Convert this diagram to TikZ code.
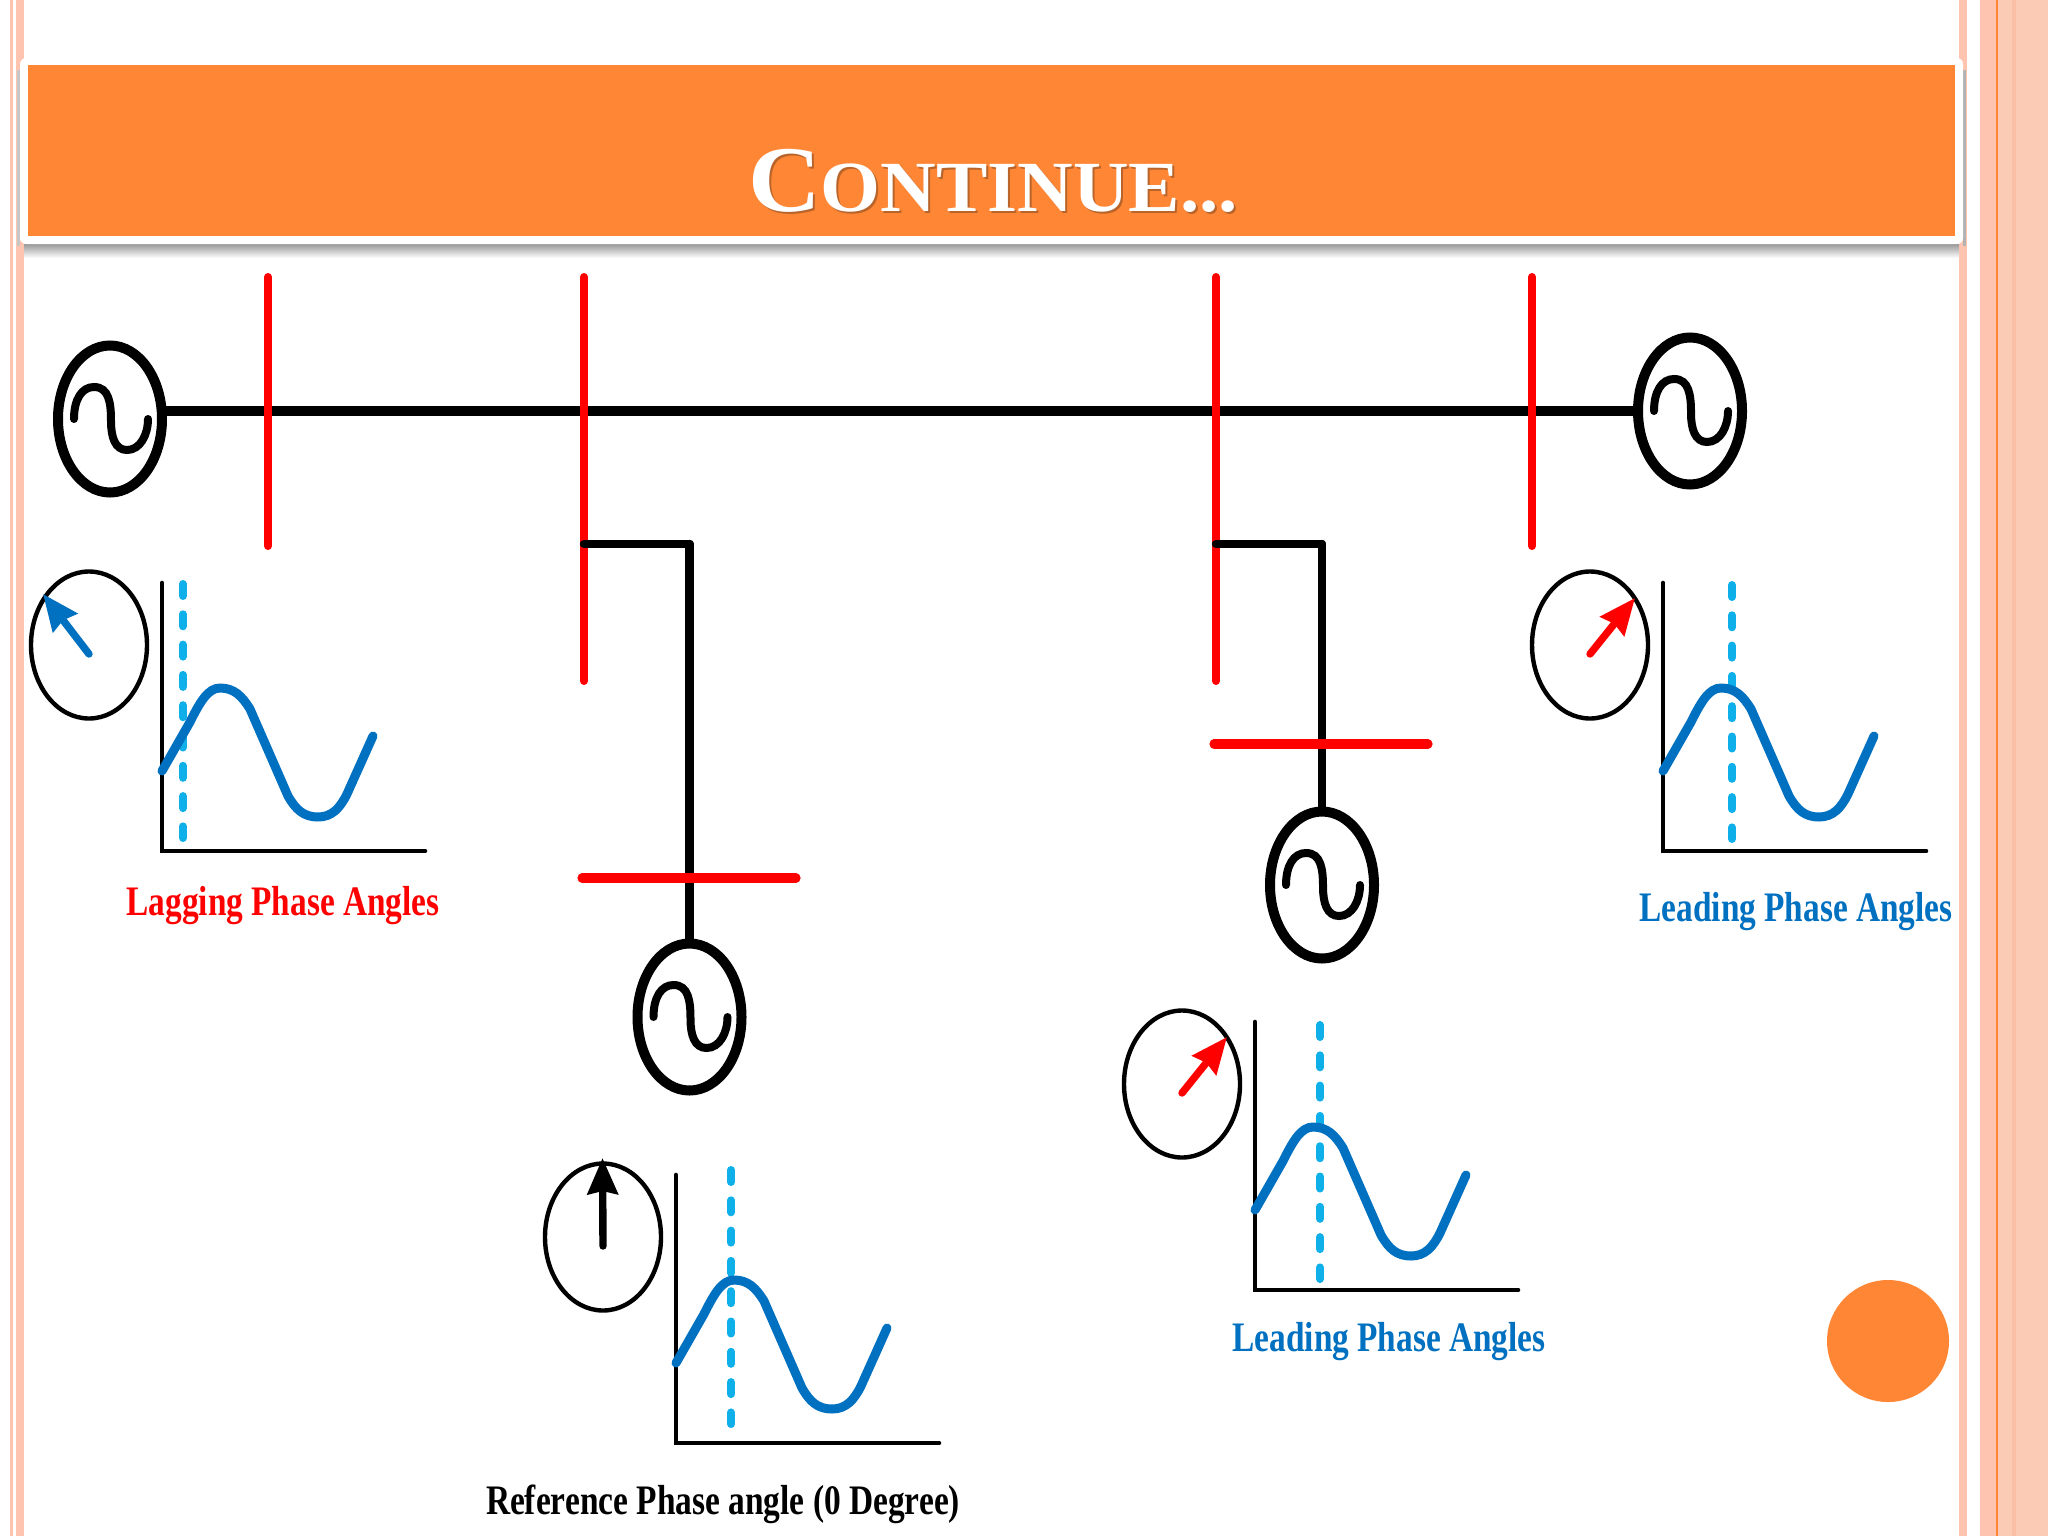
\documentclass[tikz,border=0pt]{standalone}
\usepackage{fontspec}
\usepackage{graphicx}
\setmainfont{Liberation Serif}
\usetikzlibrary{shapes.geometric,arrows.meta}
\definecolor{peach}{HTML}{FFC4B0}
\definecolor{peachb}{HTML}{FCCBB5}
\definecolor{peachc}{HTML}{FAC0A6}
\definecolor{bannerorange}{HTML}{FF8635}
\definecolor{dashblue}{HTML}{0FB0EA}
\definecolor{waveblue}{HTML}{0070C0}
\definecolor{busred}{HTML}{FF0000}
\definecolor{titleshadow}{HTML}{B8642A}
\tikzset{
  bus/.style={draw=busred,line width=4pt,line cap=round},
  wire/.style={draw=black,line width=4.2pt,line join=round,line cap=round},
  gen/.style={ellipse,draw=black,line width=5pt,minimum width=52pt,minimum height=73.5pt,inner sep=0pt,outer sep=0pt},
  gensine/.style={draw=black,line width=4pt,line cap=round},
  dial/.style={ellipse,draw=black,line width=2.2pt,minimum width=58pt,minimum height=73.5pt,inner sep=0pt,outer sep=0pt},
  axisline/.style={draw=black,line width=2.3pt,line cap=round,line join=miter},
  refdash/.style={draw=dashblue,line width=4pt,line cap=round,dash pattern=on 6pt off 9.15pt},
  wave/.style={draw=waveblue,line width=4.5pt,line cap=round,line join=round},
  label/.style={inner sep=0pt,font=\bfseries\fontsize{21}{21}\selectfont,anchor=base}
}
\newcommand{\gensym}[3]{%
  \node[gen] (#1) at (#2,#3) {};
  \draw[gensine,shift={(#2,#3)}] (-36,0) .. controls (-36,-20) and (-28,-32) .. (-16,-32)
    .. controls (-1,-32) and (1,-16) .. (1,2) .. controls (1,18) and (5,31) .. (17,31)
    .. controls (30,31) and (38,16) .. (38,0);
}
\newcommand{\phasepanel}[8]{%
  \begin{scope}[shift={(#2,#3)}]
    \node[dial] (#1dial) at (89,645) {};
    \coordinate (#1from) at (89,654);
    \coordinate (#1tip) at (#5,#6);
    \draw[draw=#4,line width=3.7pt,line cap=round,-{Stealth[length=18pt,width=15pt,inset=1.5pt,fill=#4]}] (#1from) -- (#1tip);
    \coordinate (#1top) at (162,583);
    \coordinate (#1org) at (162,851);
    \coordinate (#1end) at (425,851);
    \draw[axisline] (#1top) -- (#1org) -- (#1end);
    \coordinate (#1da) at (#7,#8);
    \coordinate (#1db) at ([yshift=-127pt]#1da);
    \draw[refdash] (#1da) -- (#1db);
    \draw[wave] (162,771) -- (190,722) .. controls (200,702) and (208,688) .. (220,688)
      .. controls (234,688) and (242,696) .. (250,709) -- (288,796)
      .. controls (296,810) and (304,817) .. (318,817)
      .. controls (332,817) and (340,808) .. (347,794) -- (373,736);
  \end{scope}
}
\begin{document}
\begin{tikzpicture}[x=0.5pt,y=-0.5pt]
\useasboundingbox (0,0) rectangle (2048,1536);
\fill[white] (0,0) rectangle (2048,1536);
% side stripes
\fill[peach] (10,0) rectangle (13,1536);
\fill[peach] (16,0) rectangle (24,1536);
\fill[peach] (1959,0) rectangle (1967,1536);
\fill[peachb] (1980,0) rectangle (2048,1536);
\fill[peach] (1980,0) rectangle (1996,1536);
\fill[peachc] (2012,0) rectangle (2016,1536);
\fill[bannerorange] (1996,0) rectangle (1997.5,1536);
% banner
\shade[top color=black!40,bottom color=white] (24,244) rectangle (1959,258);
\fill[black!30] (1963,70) rectangle (1966,246);
\fill[black!22] (17,70) rectangle (20,246);
\fill[white,rounded corners=3pt] (20,58) rectangle (1963,244);
\fill[bannerorange] (28,65) rectangle (1955,236);
\node[anchor=base,inner sep=0pt,text=titleshadow] (titleback) at (995,213.5)
  {\resizebox{245pt}{\height}{\bfseries{\fontsize{47}{47}\selectfont C}{\fontsize{36}{36}\selectfont ONTINUE...}}};
\node[anchor=base,inner sep=0pt,text=white] (title) at (993,211)
  {\resizebox{245pt}{\height}{\bfseries{\fontsize{47}{47}\selectfont C}{\fontsize{36}{36}\selectfont ONTINUE...}}};
% generators
\gensym{ga}{110}{419}
\gensym{gb}{1690}{411}
\gensym{gc}{689.5}{1017}
\gensym{gd}{1322}{885}
% coordinates
\coordinate (ja) at (584,544);
\coordinate (ka) at (689.5,544);
\coordinate (jb) at (1216,544);
\coordinate (kb) at (1322,544);
% main wire under the buses
\draw[wire,line width=5pt,line cap=butt] (ga.east |- gb.west) -- (gb.west);
% buses
\coordinate (b1t) at (268,277);
\coordinate (b1b) at (268,546);
\coordinate (b2t) at (584,277);
\coordinate (b2b) at (584,681);
\coordinate (b3t) at (1216,277);
\coordinate (b3b) at (1216,681);
\coordinate (b4t) at (1532,277);
\coordinate (b4b) at (1532,546);
\coordinate (b5l) at (582,878);
\coordinate (b5r) at (796,878);
\coordinate (b6l) at (1214,744);
\coordinate (b6r) at (1428,744);
\draw[wire] (ka |- ja) -- (ka |- gc.north);
\draw[wire] (kb |- jb) -- (kb |- gd.north);
\draw[bus] (b1t) -- (b1b);
\draw[bus] (b2t) -- (b2b);
\draw[bus] (b3t) -- (b3b);
\draw[bus] (b4t) -- (b4b);
\draw[bus,line width=4.6pt] (b5l) -- (b5r);
\draw[bus,line width=4.6pt] (b6l) -- (b6r);
% branch feeders over the buses
\draw[wire] (ja) -- (ka) -- ++(0,6);
\draw[wire] (jb) -- (kb) -- ++(0,6);
% phase panels
\phasepanel{pa}{0}{0}{waveblue}{43}{594}{183}{584}
\phasepanel{pb}{514}{592}{black}{88.5}{566}{217}{578}
\phasepanel{pc}{1093}{439}{busred}{134}{598}{227}{586}
\phasepanel{pd}{1501}{0}{busred}{134}{598}{231}{585}
% labels
\node[label,text=busred] (la) at (283,915.5) {\resizebox{156.5pt}{\height}{Lagging Phase Angles}};
\node[label,text=waveblue] (lb) at (1796,921.5) {\resizebox{156.5pt}{\height}{Leading Phase Angles}};
\node[label,text=waveblue] (lc) at (1389,1351.5) {\resizebox{156.5pt}{\height}{Leading Phase Angles}};
\node[label,text=black] (ld) at (723,1514.5) {\resizebox{237pt}{\height}{Reference Phase angle (0 Degree)}};
% orange dot
\fill[bannerorange] (1888,1341) circle[radius=61];
\end{tikzpicture}
\end{document}
